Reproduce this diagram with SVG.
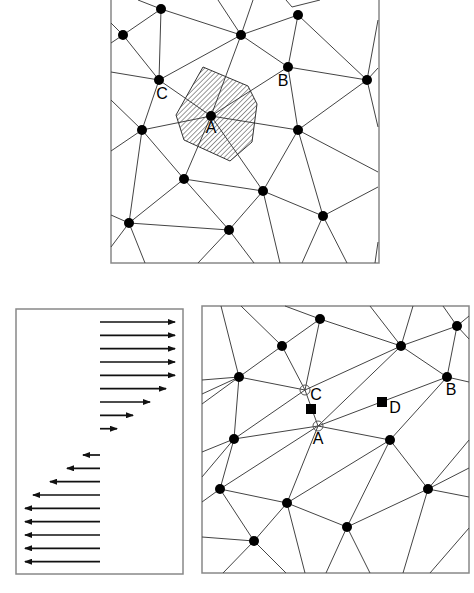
<svg xmlns="http://www.w3.org/2000/svg" width="474" height="593" viewBox="0 0 474 593">
<defs>
<style>
.frame{fill:none;stroke:#888;stroke-width:1.5}
.e{stroke:#444;stroke-width:1;fill:none}
.dot{fill:#000}
.open{fill:none;stroke:#555;stroke-width:1}
.lbl{font-family:"Liberation Sans",Arial,sans-serif;font-size:16px;fill:#000;text-anchor:middle}
.vec{stroke:#111;stroke-width:1.7;fill:none;marker-end:url(#ah)}
</style>
<marker id="ah" viewBox="0 0 8 6" refX="7" refY="3" markerWidth="8" markerHeight="6" markerUnits="userSpaceOnUse" orient="auto">
<path d="M0,0 L8,3 L0,6 Z" fill="#111"/>
</marker>
<pattern id="hatch" width="3.5" height="3.5" patternUnits="userSpaceOnUse" patternTransform="rotate(45)">
<line x1="0" y1="0" x2="0" y2="3.5" stroke="#333" stroke-width="1"/>
</pattern>
</defs>
<rect width="474" height="593" fill="#fff"/>

<!-- Top panel -->
<rect class="frame" x="111" y="-4" width="268" height="267"/>
<g id="top-edges" class="e">
<path d="M138,0L161,9 M161,9L123,35 M161,9L159,80 M161,9L241,35 M111,23L123,35 M111,43L123,35 M123,35L159,80 M111,72L159,80 M159,80L241,35 M159,80L211,116 M159,80L142,130 M218,0L241,35 M253,0L241,35 M241,35L298,15 M241,35L288,67 M241,35L211,116 M286,0L292,7L320,0 M298,15L288,67 M298,15L367,80 M288,67L367,80 M288,67L211,116 M288,67L298,130 M367,80L378,20 M367,80L378,68 M367,80L378,127 M367,80L298,130 M298,130L211,116 M298,130L263,191 M298,130L323,216 M298,130L378,172 M111,100L142,130 M111,151L142,130 M142,130L211,116 M142,130L184,179 M142,130L129,223 M184,179L211,116 M184,179L263,191 M184,179L129,223 M184,179L229,230 M211,116L263,191 M263,191L229,230 M263,191L323,216 M263,191L280,263 M129,223L229,230 M111,215L129,223 M111,247L129,223 M129,223L145,263 M229,230L198,263 M229,230L254,263 M323,216L302,263 M323,216L347,263 M323,216L378,187 M378,242L375,263"/>
</g>
<polygon id="voronoi-cell" points="203,67 248,86 257,104 252,142 230,161 184,140 176,115" fill="url(#hatch)" stroke="#333" stroke-width="1"/>
<g id="top-nodes" class="dot">
<circle cx="161" cy="9" r="5"/>
<circle cx="123" cy="35" r="5"/>
<circle cx="241" cy="35" r="5"/>
<circle cx="298" cy="15" r="5"/>
<circle cx="288" cy="67" r="5"/>
<circle cx="367" cy="80" r="5"/>
<circle cx="159" cy="80" r="5"/>
<circle cx="211" cy="116" r="5"/>
<circle cx="142" cy="130" r="5"/>
<circle cx="298" cy="130" r="5"/>
<circle cx="184" cy="179" r="5"/>
<circle cx="263" cy="191" r="5"/>
<circle cx="129" cy="223" r="5"/>
<circle cx="229" cy="230" r="5"/>
<circle cx="323" cy="216" r="5"/>
</g>
<g id="top-labels">
<text class="lbl" x="162" y="99">C</text>
<text class="lbl" x="211" y="133">A</text>
<text class="lbl" x="283" y="86">B</text>
</g>

<!-- Bottom-left panel -->
<rect class="frame" x="16" y="309" width="167" height="265"/>
<g id="vectors">
<line class="vec" x1="100" y1="322" x2="175" y2="322"/>
<line class="vec" x1="100" y1="335.3" x2="175" y2="335.3"/>
<line class="vec" x1="100" y1="348.7" x2="175" y2="348.7"/>
<line class="vec" x1="100" y1="362" x2="175" y2="362"/>
<line class="vec" x1="100" y1="375.3" x2="175" y2="375.3"/>
<line class="vec" x1="100" y1="388.7" x2="166" y2="388.7"/>
<line class="vec" x1="100" y1="402" x2="150" y2="402"/>
<line class="vec" x1="100" y1="415.3" x2="133" y2="415.3"/>
<line class="vec" x1="100" y1="428.7" x2="117" y2="428.7"/>
<line class="vec" x1="100" y1="455" x2="83" y2="455"/>
<line class="vec" x1="100" y1="468.3" x2="67" y2="468.3"/>
<line class="vec" x1="100" y1="481.7" x2="50" y2="481.7"/>
<line class="vec" x1="100" y1="495" x2="33" y2="495"/>
<line class="vec" x1="100" y1="508.3" x2="25" y2="508.3"/>
<line class="vec" x1="100" y1="521.7" x2="25" y2="521.7"/>
<line class="vec" x1="100" y1="535" x2="25" y2="535"/>
<line class="vec" x1="100" y1="548.3" x2="25" y2="548.3"/>
<line class="vec" x1="100" y1="561.7" x2="25" y2="561.7"/>
</g>

<!-- Bottom-right panel -->
<rect class="frame" x="202" y="306" width="267" height="267"/>
<g id="bottom-edges" class="e">
<path d="M221,306L239,377 M241,306L282,346 M285,306L320,319 M320,319L282,346 M320,319L305,390 M320,319L401,346 M282,346L239,377 M282,346L305,390 M239,377L305,390 M239,377L234,439 M202,380L239,377 M202,394L239,377 M202,404L239,377 M305,390L318,426 M305,390L401,346 M305,390L234,439 M318,426L234,439 M318,426L220,489 M318,426L287,503 M318,426L401,346 M318,426L447,377 M318,426L390,440 M370,306L401,346 M413,306L401,346 M401,346L457,326 M401,346L447,377 M443,306L457,326 M457,326L469,316 M457,326L469,339 M457,326L447,377 M447,377L469,382 M447,377L390,440 M390,440L287,503 M390,440L347,527 M390,440L428,489 M202,452L234,439 M202,477L234,439 M234,439L220,489 M202,502L220,489 M220,489L287,503 M220,489L254,541 M287,503L254,541 M287,503L347,527 M287,503L305,573 M202,537L254,541 M254,541L223,573 M254,541L286,573 M428,489L347,527 M428,489L469,440 M428,489L469,468 M428,489L469,497 M428,489L403,573 M469,528L430,573 M347,527L326,573 M347,527L370,573"/>
</g>
<g id="bottom-nodes">
<g class="dot">
<circle cx="320" cy="319" r="5"/>
<circle cx="282" cy="346" r="5"/>
<circle cx="239" cy="377" r="5"/>
<circle cx="234" cy="439" r="5"/>
<circle cx="401" cy="346" r="5"/>
<circle cx="457" cy="326" r="5"/>
<circle cx="447" cy="377" r="5"/>
<circle cx="390" cy="440" r="5"/>
<circle cx="220" cy="489" r="5"/>
<circle cx="287" cy="503" r="5"/>
<circle cx="254" cy="541" r="5"/>
<circle cx="428" cy="489" r="5"/>
<circle cx="347" cy="527" r="5"/>
<rect x="306" y="404" width="10" height="10"/>
<rect x="377" y="397" width="10" height="10"/>
</g>
<circle class="open" cx="305" cy="390" r="5"/>
<circle class="open" cx="318" cy="426" r="5"/>
</g>
<g id="bottom-labels">
<text class="lbl" x="316" y="400">C</text>
<text class="lbl" x="318" y="444">A</text>
<text class="lbl" x="395" y="413">D</text>
<text class="lbl" x="451" y="395">B</text>
</g>
</svg>
